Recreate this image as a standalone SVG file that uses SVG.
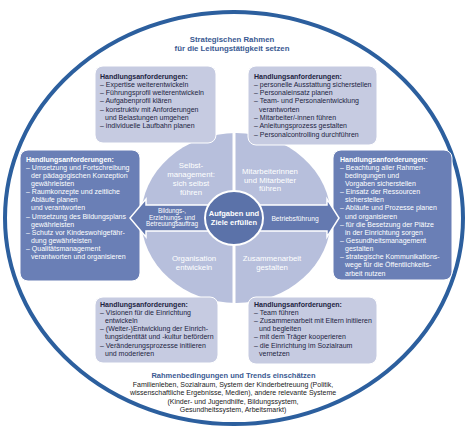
<svg xmlns="http://www.w3.org/2000/svg" width="474" height="430" viewBox="0 0 474 430">
<style>
.t{font-family:"Liberation Sans",Arial,sans-serif;font-size:7px;fill:#1d2442}
.h{font-weight:bold}
.w{fill:#ffffff}
.c{text-anchor:middle}
.blue{fill:#3a5a92;font-weight:bold}
.lbox{fill:#c6cbe1;stroke:#ffffff;stroke-width:1}
.dbox{fill:#6a7fb6;stroke:#ffffff;stroke-width:1}
.q{font-size:7.8px}
.arrow{fill:#6479b0;stroke:#ffffff;stroke-width:1.5;stroke-linejoin:miter}
</style>
<rect width="474" height="430" fill="#ffffff"/>
<ellipse id="frame" cx="234" cy="218" rx="229" ry="206" fill="none" stroke="#2c5f9e" stroke-width="4"/>
<g id="title-top">
<text class="t blue c" x="232" y="42" style="font-size:7.8px">Strategischen Rahmen</text>
<text class="t blue c" x="232" y="51" style="font-size:7.8px">für die Leitungstätigkeit setzen</text>
</g>
<g id="disc">
<ellipse cx="236" cy="218" rx="95" ry="85" fill="#b7bfdc"/>
<line x1="234" y1="128" x2="234" y2="308" stroke="#ffffff" stroke-width="3"/>
</g>
<g id="q-selbst">
<text class="t w c q" x="191" y="168">Selbst-</text>
<text class="t w c q" x="191" y="177">management:</text>
<text class="t w c q" x="191" y="186">sich selbst</text>
<text class="t w c q" x="191" y="195">führen</text>
</g>
<g id="q-mitarbeiter">
<text class="t w c q" x="270" y="174">Mitarbeiterinnen</text>
<text class="t w c q" x="270" y="182.5">und Mitarbeiter</text>
<text class="t w c q" x="270" y="191">führen</text>
</g>
<g id="q-organisation">
<text class="t w c q" x="194" y="260.5">Organisation</text>
<text class="t w c q" x="194" y="269.5">entwickeln</text>
</g>
<g id="q-zusammenarbeit">
<text class="t w c q" x="272" y="260.5">Zusammenarbeit</text>
<text class="t w c q" x="272" y="269.5">gestalten</text>
</g>
<g id="box-tl">
<rect class="lbox" x="95" y="66" width="121" height="77" rx="8"/>
<text class="t h" x="100" y="78.5">Handlungsanforderungen:</text>
<text class="t" x="100" y="86.8">– Expertise weiterentwickeln</text>
<text class="t" x="100" y="95.1">– Führungsprofil weiterentwickeln</text>
<text class="t" x="100" y="103.4">– Aufgabenprofil klären</text>
<text class="t" x="100" y="111.7">– konstruktiv mit Anforderungen</text>
<text class="t" x="105" y="120">und Belastungen umgehen</text>
<text class="t" x="100" y="128.3">– individuelle Laufbahn planen</text>
</g>
<g id="box-tr">
<rect class="lbox" x="248" y="66" width="129" height="79" rx="8"/>
<text class="t h" x="254" y="78.5">Handlungsanforderungen:</text>
<text class="t" x="254" y="86.8">– personelle Ausstattung sicherstellen</text>
<text class="t" x="254" y="95.1">– Personaleinsatz planen</text>
<text class="t" x="254" y="103.4">– Team- und Personalentwicklung</text>
<text class="t" x="259" y="111.7">verantworten</text>
<text class="t" x="254" y="120">– Mitarbeiter/-innen führen</text>
<text class="t" x="254" y="128.3">– Anleitungsprozess gestalten</text>
<text class="t" x="254" y="136.6">– Personalcontrolling durchführen</text>
</g>
<g id="box-bl">
<rect class="lbox" x="95" y="297" width="123" height="66" rx="8"/>
<text class="t h" x="100" y="306.5">Handlungsanforderungen:</text>
<text class="t" x="100" y="314.7">– Visionen für die Einrichtung</text>
<text class="t" x="105" y="322.9">entwickeln</text>
<text class="t" x="100" y="331.1">– (Weiter-)Entwicklung der Einrich-</text>
<text class="t" x="105" y="339.3">tungsidentität und -kultur befördern</text>
<text class="t" x="100" y="347.5">– Veränderungsprozesse initiieren</text>
<text class="t" x="105" y="355.7">und moderieren</text>
</g>
<g id="box-br">
<rect class="lbox" x="248" y="297" width="129" height="67" rx="8"/>
<text class="t h" x="254" y="306.5">Handlungsanforderungen:</text>
<text class="t" x="254" y="314.7">– Team führen</text>
<text class="t" x="254" y="322.9">– Zusammenarbeit mit Eltern initiieren</text>
<text class="t" x="259" y="331.1">und begleiten</text>
<text class="t" x="254" y="339.3">– mit dem Träger kooperieren</text>
<text class="t" x="254" y="347.5">– die Einrichtung im Sozialraum</text>
<text class="t" x="259" y="355.7">vernetzen</text>
</g>
<g id="box-l">
<rect class="dbox" x="20" y="150" width="120" height="131" rx="8"/>
<text class="t w h" x="26" y="161.5">Handlungsanforderungen:</text>
<text class="t w" x="26" y="169.65">– Umsetzung und Fortschreibung</text>
<text class="t w" x="31" y="177.8">der pädagogischen Konzeption</text>
<text class="t w" x="31" y="185.95">gewährleisten</text>
<text class="t w" x="26" y="194.1">– Raumkonzepte und zeitliche</text>
<text class="t w" x="31" y="202.25">Abläufe planen</text>
<text class="t w" x="31" y="210.4">und verantworten</text>
<text class="t w" x="26" y="218.55">– Umsetzung des Bildungsplans</text>
<text class="t w" x="31" y="226.7">gewährleisten</text>
<text class="t w" x="26" y="234.85">– Schutz vor Kindeswohlgefähr-</text>
<text class="t w" x="31" y="243">dung gewährleisten</text>
<text class="t w" x="26" y="251.15">– Qualitätsmanagement</text>
<text class="t w" x="31" y="259.3">verantworten und organisieren</text>
</g>
<g id="box-r">
<rect class="dbox" x="333" y="150" width="119" height="130" rx="8"/>
<text class="t w h" x="340" y="161.5">Handlungsanforderungen:</text>
<text class="t w" x="340" y="169.65">– Beachtung aller Rahmen-</text>
<text class="t w" x="345" y="177.8">bedingungen und</text>
<text class="t w" x="345" y="185.95">Vorgaben sicherstellen</text>
<text class="t w" x="340" y="194.1">– Einsatz der Ressourcen</text>
<text class="t w" x="345" y="202.25">sicherstellen</text>
<text class="t w" x="340" y="210.4">– Abläufe und Prozesse planen</text>
<text class="t w" x="345" y="218.55">und organisieren</text>
<text class="t w" x="340" y="226.7">– für die Besetzung der Plätze</text>
<text class="t w" x="345" y="234.85">in der Einrichtung sorgen</text>
<text class="t w" x="340" y="243">– Gesundheitsmanagement</text>
<text class="t w" x="345" y="251.15">gestalten</text>
<text class="t w" x="340" y="259.3">– strategische Kommunikations-</text>
<text class="t w" x="345" y="267.45">wege für die Öffentlichkeits-</text>
<text class="t w" x="345" y="275.6">arbeit nutzen</text>
</g>
<g id="connectors">
<polygon class="arrow" points="234,205 146,205 146,199 130,218 146,237 146,231 234,231"/>
<polygon class="arrow" points="234,205 327,205 327,199 339,218 327,237 327,231 234,231"/>
<text class="t w c" x="172" y="213" style="font-size:6.3px">Bildungs-,</text>
<text class="t w c" x="172" y="219.5" style="font-size:6.3px">Erziehungs- und</text>
<text class="t w c" x="172" y="226" style="font-size:6.3px">Betreuungsauftrag</text>
<text class="t w c" x="295" y="220.5" style="font-size:6.7px">Betriebsführung</text>
</g>
<g id="center">
<ellipse cx="234" cy="218" rx="29" ry="27" fill="#5b72a9" stroke="#ffffff" stroke-width="2"/>
<text class="t w h c" x="234" y="215.5" style="font-size:7.5px">Aufgaben und</text>
<text class="t w h c" x="234" y="225" style="font-size:7.5px">Ziele erfüllen</text>
</g>
<g id="title-bottom">
<text class="t blue c" x="233.5" y="377.5" style="font-size:7.5px">Rahmenbedingungen und Trends einschätzen</text>
<text class="t c" x="233" y="386.5" style="fill:#1a1a1a">Familienleben, Sozialraum, System der Kinderbetreuung (Politik,</text>
<text class="t c" x="233" y="395" style="fill:#1a1a1a">wissenschaftliche Ergebnisse, Medien), andere relevante Systeme</text>
<text class="t c" x="233" y="403.5" style="fill:#1a1a1a">(Kinder- und Jugendhilfe, Bildungssystem,</text>
<text class="t c" x="233" y="412" style="fill:#1a1a1a">Gesundheitssystem, Arbeitsmarkt)</text>
</g>
</svg>
